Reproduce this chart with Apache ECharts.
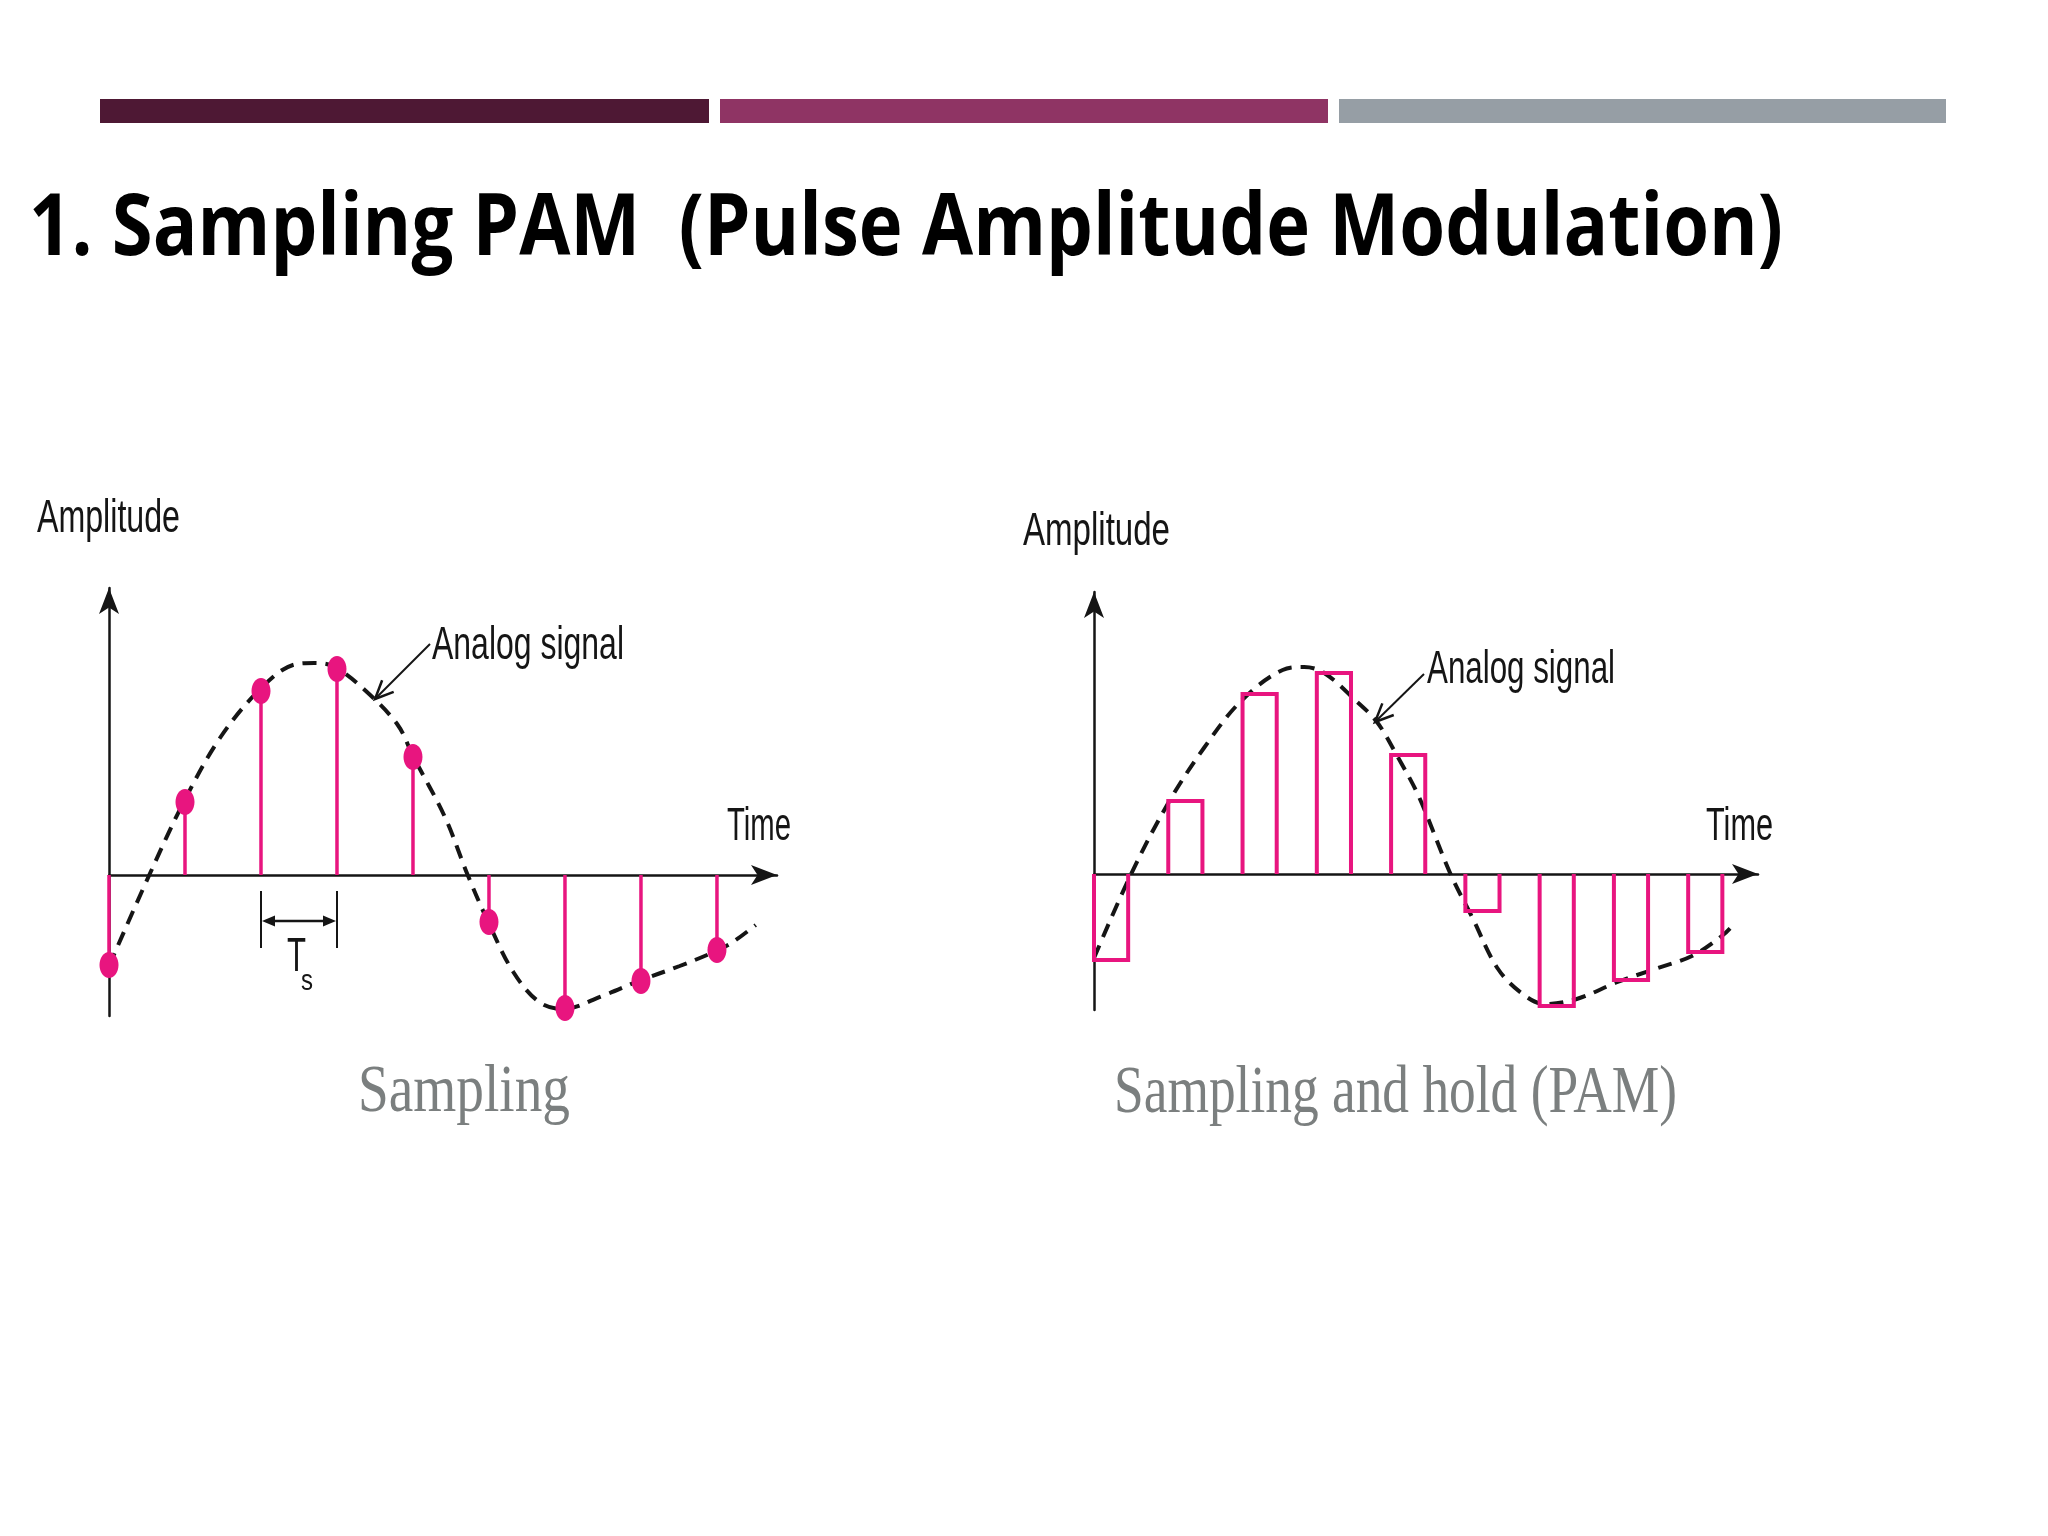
<!DOCTYPE html>
<html><head><meta charset="utf-8">
<script src="https://cdn.jsdelivr.net/npm/echarts@6/dist/echarts.min.js"></script>
<style>html,body{margin:0;padding:0;background:#fff}#c{width:2048px;height:1536px}</style>
</head><body><div id="c"></div>
<script>
// ---- data ----
const sampleTimes   = [0, 1, 2, 3, 4, 5, 6, 7, 8];
const sampledValues = [-0.90, 0.73, 1.84, 2.06, 1.18, -0.47, -1.33, -1.06, -0.75];
const heldValues    = [-0.86, 0.73, 1.80, 2.01, 1.19, -0.37, -1.32, -1.06, -0.78];
const holdWidth = 0.46;

const leftCurveT = [0, 0.53, 0.99, 1.46, 1.99, 2.42, 2.70, 2.97, 3.38, 3.80, 4.00, 4.42, 4.72, 4.99, 5.32, 5.66, 5.97, 6.49, 6.97, 7.51, 7.99, 8.21, 8.51];
const leftCurveV = [-0.91, 0, 0.74, 1.37, 1.86, 2.10, 2.12, 2.08, 1.84, 1.50, 1.19, 0.58, 0, -0.47, -0.97, -1.27, -1.34, -1.21, -1.06, -0.91, -0.76, -0.67, -0.50];

const rightCurveT = [0, 0.50, 1.00, 1.48, 1.98, 2.54, 2.83, 3.10, 3.53, 3.81, 4.09, 4.37, 4.80, 5.09, 5.44, 5.79, 6.07, 6.50, 7.05, 7.55, 8.05, 8.47, 8.64];
const rightCurveV = [-0.84, 0, 0.71, 1.26, 1.73, 2.04, 2.07, 2.01, 1.73, 1.52, 1.17, 0.78, 0, -0.43, -0.95, -1.21, -1.30, -1.25, -1.08, -0.95, -0.82, -0.61, -0.48];

const titleText = '1. Sampling PAM  (Pulse Amplitude Modulation)';
const leftCaption = 'Sampling';
const rightCaption = 'Sampling and hold (PAM)';
const amplitudeLabel = 'Amplitude';
const timeLabel = 'Time';
const analogLabel = 'Analog signal';
const periodLabel = 'T';
const periodSub = 's';

// ---- styling ----
const PINK = '#e8157f';
const INK = '#151515';
const chart = echarts.init(document.getElementById('c'), null, {renderer: 'canvas', width: 2048, height: 1536});

const hiddenBits = {axisTick: {show: false}, axisLabel: {show: false}, splitLine: {show: false}};
function axisLine() {
  return {show: true, onZero: true, symbol: ['none', 'arrow'], symbolSize: [15, 26],
          lineStyle: {color: INK, width: 2.5}};
}
function pairs(a, b) { return a.map((v, i) => [v, b[i]]); }

const option = {
  animation: false,
  backgroundColor: '#ffffff',
  grid: [
    {left: 109, top: 588, width: 668, height: 428},
    {left: 1094, top: 592, width: 664, height: 418}
  ],
  xAxis: [
    Object.assign({type: 'value', gridIndex: 0, min: 0, max: 8.79, axisLine: axisLine()}, hiddenBits),
    Object.assign({type: 'value', gridIndex: 1, min: 0, max: 8.94, axisLine: axisLine()}, hiddenBits)
  ],
  yAxis: [
    Object.assign({type: 'value', gridIndex: 0, min: -1.41, max: 2.87, axisLine: axisLine()}, hiddenBits),
    Object.assign({type: 'value', gridIndex: 1, min: -1.36, max: 2.82, axisLine: axisLine()}, hiddenBits)
  ],
  series: [
    {
      type: 'line', xAxisIndex: 0, yAxisIndex: 0, z: 3,
      data: pairs(leftCurveT, leftCurveV), smooth: 0.35, symbol: 'none',
      lineStyle: {color: INK, width: 4, type: [14, 9]}
    },
    {
      type: 'custom', xAxisIndex: 0, yAxisIndex: 0, z: 5,
      data: pairs(sampleTimes, sampledValues),
      renderItem: function (params, api) {
        const p0 = api.coord([api.value(0), 0]);
        const p1 = api.coord([api.value(0), api.value(1)]);
        return {type: 'group', children: [
          {type: 'line', shape: {x1: p0[0], y1: p0[1], x2: p1[0], y2: p1[1]}, style: {stroke: PINK, lineWidth: 3.5}},
          {type: 'ellipse', shape: {cx: p1[0], cy: p1[1], rx: 9.5, ry: 13}, style: {fill: PINK}}
        ]};
      }
    },
    {
      type: 'line', xAxisIndex: 1, yAxisIndex: 1, z: 3,
      data: pairs(rightCurveT, rightCurveV), smooth: 0.35, symbol: 'none',
      lineStyle: {color: INK, width: 4, type: [14, 9]}
    },
    {
      type: 'custom', xAxisIndex: 1, yAxisIndex: 1, z: 5,
      data: pairs(sampleTimes, heldValues),
      renderItem: function (params, api) {
        const t = api.value(0), v = api.value(1);
        const pts = [[t, 0], [t, v], [t + holdWidth, v], [t + holdWidth, 0]].map(d => api.coord(d));
        return {type: 'polyline', shape: {points: pts}, style: {stroke: PINK, lineWidth: 4, fill: null}};
      }
    }
  ]
};
chart.setOption(option);

// ---- annotations ----
const mctx = document.createElement('canvas').getContext('2d');
function txt(text, left, cy, size, family, weight, color, targetW) {
  mctx.font = weight + ' ' + size + 'px ' + family;
  const s = targetW / mctx.measureText(text).width;
  return {type: 'text', x: left, y: cy, scaleX: s, z: 10,
    style: {text: text, fontSize: size, fontFamily: family, fontWeight: weight, fill: color,
            textAlign: 'left', textVerticalAlign: 'middle', align: 'left', verticalAlign: 'middle'}};
}
function openArrow(x1, y1, x2, y2) {
  const a = Math.atan2(y2 - y1, x2 - x1), L = 20, w = 0.42;
  const h1 = [x2 - L * Math.cos(a - w), y2 - L * Math.sin(a - w)];
  const h2 = [x2 - L * Math.cos(a + w), y2 - L * Math.sin(a + w)];
  return [
    {type: 'line', z: 10, shape: {x1: x1, y1: y1, x2: x2, y2: y2}, style: {stroke: INK, lineWidth: 2}},
    {type: 'polyline', z: 10, shape: {points: [h1, [x2, y2], h2]}, style: {stroke: INK, lineWidth: 2.5, fill: null}}
  ];
}
function tri(tipX, y, dir) {
  const L = 13, hw = 5.5;
  return {type: 'polygon', z: 10, shape: {points: [[tipX, y], [tipX - dir * L, y - hw], [tipX - dir * L, y + hw]]}, style: {fill: INK}};
}

const pA = chart.convertToPixel({gridIndex: 0}, [sampleTimes[2], 0]);
const pB = chart.convertToPixel({gridIndex: 0}, [sampleTimes[3], 0]);
const yTop = pA[1] + 16, yBot = pA[1] + 73, yArr = pA[1] + 46;
const mid = (pA[0] + pB[0]) / 2;

const SANS = '"Liberation Sans", Arial, sans-serif';
const SERIF = '"Liberation Serif", "Times New Roman", serif';
const graphics = [
  {type: 'rect', shape: {x: 100, y: 99, width: 609, height: 24}, style: {fill: '#4e1834'}},
  {type: 'rect', shape: {x: 720, y: 99, width: 608, height: 24}, style: {fill: '#8f3464'}},
  {type: 'rect', shape: {x: 1339, y: 99, width: 607, height: 24}, style: {fill: '#969ea5'}},
  txt(titleText, 29, 230, 86, '"Open Sans"', 'bold', '#000000', 1754),

  txt(amplitudeLabel, 37, 519, 46, SANS, 'normal', INK, 143),
  txt(timeLabel, 727, 827, 46, SANS, 'normal', INK, 64),
  txt(analogLabel, 432, 646, 46, SANS, 'normal', INK, 192),
  txt(leftCaption, 358, 1093, 68, SERIF, 'normal', '#7b7f7f', 212),

  txt(amplitudeLabel, 1023, 532, 46, SANS, 'normal', INK, 147),
  txt(timeLabel, 1706, 827, 46, SANS, 'normal', INK, 67),
  txt(analogLabel, 1427, 670, 46, SANS, 'normal', INK, 188),
  txt(rightCaption, 1114, 1094, 68, SERIF, 'normal', '#7b7f7f', 563),

  {type: 'line', z: 10, shape: {x1: pA[0], y1: yTop, x2: pA[0], y2: yBot}, style: {stroke: INK, lineWidth: 2}},
  {type: 'line', z: 10, shape: {x1: pB[0], y1: yTop, x2: pB[0], y2: yBot}, style: {stroke: INK, lineWidth: 2}},
  {type: 'line', z: 10, shape: {x1: pA[0] + 8, y1: yArr, x2: pB[0] - 8, y2: yArr}, style: {stroke: INK, lineWidth: 2.5}},
  tri(pA[0] + 1, yArr, -1),
  tri(pB[0] - 1, yArr, 1),
  txt(periodLabel, mid - 12, 958, 48, SANS, 'normal', INK, 19),
  txt(periodSub, mid + 2, 982, 30, SANS, 'normal', INK, 12)
].concat(openArrow(430, 644, 375, 699)).concat(openArrow(1424, 674, 1375, 722));

chart.setOption({graphic: {elements: graphics}});
</script>
</body></html>
